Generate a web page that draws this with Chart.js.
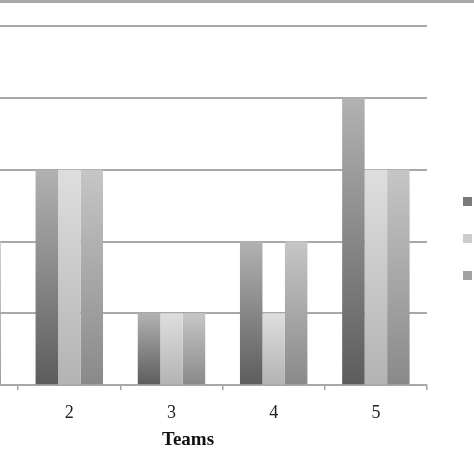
<!DOCTYPE html>
<html>
<head>
<meta charset="utf-8">
<script src="https://cdn.jsdelivr.net/npm/chart.js@4"></script>
<style>
  html, body { margin: 0; padding: 0; background: #fff; }
  body { width: 474px; height: 474px; overflow: hidden; position: relative; }
  #topline { position: absolute; left: 0; top: 0; width: 474px; height: 3px; background: #a9a9a9; z-index: 2; }
  #wrap { position: absolute; left: -156px; top: 0; width: 688px; height: 474px; }
</style>
</head>
<body>
<div id="topline"></div>
<div id="wrap"><canvas id="teamChart"></canvas></div>
<script>
// values (team 1 is mostly cut off)
const teams = ["1", "2", "3", "4", "5"];
const seriesNames = ["Series 1", "Series 2", "Series 3"];
const series1 = [2, 3, 1, 2, 4];
const series2 = [1, 3, 1, 1, 3];
const series3 = [2, 3, 1, 2, 3];
const yMin = 0, yMax = 5, yStep = 1;

// grey shades: light at the top of each bar, dark at the base
const shades = [
    ["#b2b2b2", "#5c5c5c"],
    ["#dedede", "#b3b3b3"],
    ["#c6c6c6", "#898989"]
];
const legendFill = ["#7a7a7a", "#cccccc", "#a2a2a2"];
const gridColor = "#a8a8a8";

function barShade(top, bottom) {
    return function (ctx) {
        const yScale = ctx.chart.scales.y;
        if (!yScale || !ctx.parsed) return bottom;
        const y0 = yScale.getPixelForValue(0);
        const y1 = yScale.getPixelForValue(ctx.parsed.y);
        if (!isFinite(y0) || !isFinite(y1) || y0 === y1) return bottom;
        const g = ctx.chart.ctx.createLinearGradient(0, y1, 0, y0);
        g.addColorStop(0, top);
        g.addColorStop(1, bottom);
        return g;
    };
}

const values = [series1, series2, series3];

new Chart(document.getElementById("teamChart"), {
    type: "bar",
    data: {
        labels: teams,
        datasets: values.map((v, i) => ({
            label: seriesNames[i],
            data: v,
            backgroundColor: barShade(shades[i][0], shades[i][1]),
            borderWidth: 0,
            categoryPercentage: 0.66,
            barPercentage: 1.0
        }))
    },
    options: {
        responsive: true,
        maintainAspectRatio: false,
        animation: false,
        layout: { padding: { top: 26, bottom: 23, left: 0, right: 0 } },
        scales: {
            x: {
                grid: { display: true, drawOnChartArea: false, offset: true, tickLength: 5, color: gridColor, lineWidth: 1.5 },
                border: { color: gridColor, width: 1.5 },
                ticks: { color: "#222", padding: 12, font: { family: "Liberation Serif", size: 18 } },
                afterFit: axis => { axis.height = 36; }
            },
            y: {
                min: yMin,
                max: yMax,
                ticks: { display: false, stepSize: yStep },
                grid: { color: gridColor, lineWidth: 2, drawTicks: false },
                border: { display: false },
                afterFit: axis => { axis.width = 72; }
            },
            y2: {
                type: "linear",
                position: "right",
                grid: { display: false },
                border: { display: false },
                ticks: { display: false },
                afterFit: axis => { axis.width = 11; }
            }
        },
        plugins: {
            tooltip: { enabled: false },
            legend: {
                position: "right",
                labels: {
                    boxWidth: 9,
                    boxHeight: 9,
                    padding: 25,
                    color: "#222",
                    font: { family: "Liberation Sans", size: 12 },
                    generateLabels: chart => {
                        const items = Chart.defaults.plugins.legend.labels.generateLabels(chart);
                        items.forEach((it, i) => {
                            it.fillStyle = legendFill[i];
                            it.strokeStyle = legendFill[i];
                            it.lineWidth = 0;
                        });
                        return items;
                    }
                }
            },
            title: {
                display: true,
                position: "bottom",
                text: "Teams",
                color: "#111",
                padding: { top: 7, bottom: 0 },
                font: { family: "Liberation Serif", size: 19, weight: "bold" }
            }
        }
    }
});
</script>
</body>
</html>
